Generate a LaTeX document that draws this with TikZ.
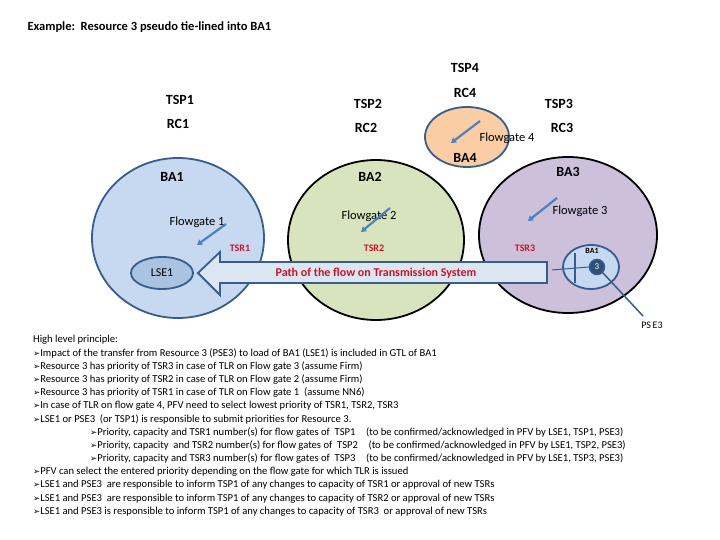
\documentclass[tikz,border=0pt]{standalone}
\usepackage{fontspec}
\setmainfont{Carlito}
\newfontfamily\djfont{DejaVu Sans}
\usetikzlibrary{arrows.meta}
\definecolor{bafill}{RGB}{198,217,241}
\definecolor{baline}{RGB}{56,93,138}
\definecolor{gfill}{RGB}{215,228,189}
\definecolor{pfill}{RGB}{204,192,218}
\definecolor{ofill}{RGB}{250,205,165}
\definecolor{afill}{RGB}{220,230,242}
\definecolor{lsefill}{RGB}{170,195,225}
\definecolor{arr}{RGB}{79,129,189}
\definecolor{tred}{RGB}{200,20,40}
\newcommand{\bl}{{\djfont\fontsize{8.5}{9}\selectfont ➢}}
\begin{document}
\begin{tikzpicture}[x=1pt,y=-1pt,
  lab/.style={font=\fontsize{14}{16}\selectfont\bfseries},
  fg/.style={font=\fontsize{12.5}{14}\selectfont},
  tsr/.style={font=\fontsize{10}{12}\selectfont\bfseries,text=tred},
  sa/.style={arr,line width=2.2pt,-{Triangle[length=5pt,width=6pt]}},
  body/.style={anchor=west,font=\fontsize{10.6}{12}\selectfont,inner sep=0pt}]
\useasboundingbox (0,0) rectangle (720,540);
\fill[white] (0,0) rectangle (720,540);
\node[anchor=west,font=\fontsize{12.5}{14}\selectfont\bfseries] (title) at (24,27) {Example:\ \ Resource 3 pseudo tie-lined into BA1};
% circles
\draw[baline,fill=bafill,line width=1.8pt] (178,238) ellipse [x radius=86,y radius=80];
\draw[black,fill=gfill,line width=1.8pt] (376,240) ellipse [x radius=88,y radius=80];
\draw[black,fill=pfill,line width=1.8pt] (568,235) ellipse [x radius=89,y radius=78];
\draw[baline,fill=ofill,line width=1.8pt] (467,137) ellipse [x radius=42,y radius=30];
% labels
\node[lab] (tsp1) at (180,100) {TSP1};
\node[lab] (rc1) at (178,124) {RC1};
\node[lab] (tsp2) at (368,104) {TSP2};
\node[lab] (rc2) at (366,128) {RC2};
\node[lab] (tsp4) at (465,68) {TSP4};
\node[lab] (rc4) at (465,93) {RC4};
\node[lab] (tsp3) at (559,104) {TSP3};
\node[lab] (rc3) at (562,128) {RC3};
\node[lab] (ba1) at (172,177) {BA1};
\node[lab] (ba2) at (370,177) {BA2};
\node[lab] (ba3) at (568,172) {BA3};
\node[lab] (ba4) at (465,158) {BA4};
\node[fg] (fg1) at (197,222) {Flowgate 1};
\node[fg] (fg2) at (369,216) {Flowgate 2};
\node[fg] (fg3) at (580,211) {Flowgate 3};
\node[fg] (fg4) at (507,138) {Flowgate 4};
\coordinate (a1s) at (226,224); \coordinate (a1e) at (197,245);
\coordinate (a2s) at (390,208); \coordinate (a2e) at (361,232);
\coordinate (a3s) at (557,198); \coordinate (a3e) at (528,221);
\coordinate (a4s) at (480,121); \coordinate (a4e) at (451,143);
\draw[sa] (a1s) -- (a1e);
\draw[sa] (a2s) -- (a2e);
\draw[sa] (a3s) -- (a3e);
\draw[sa] (a4s) -- (a4e);
\node[tsr] (tsr1) at (240,248) {TSR1};
\node[tsr] (tsr2) at (374,248) {TSR2};
\node[tsr] (tsr3) at (525,248) {TSR3};
% LSE1
\draw[baline,fill=lsefill,line width=1.8pt] (162,273) ellipse [x radius=31,y radius=16];
\node[font=\fontsize{12}{14}\selectfont] (lse1) at (162,273) {LSE1};
% big arrow
\draw[baline,fill=afill,line width=1.8pt] (547,262) -- (220,262) -- (220,252) -- (198,273) -- (220,295) -- (220,283) -- (547,283) -- cycle;
\node[font=\fontsize{12}{14}\selectfont\bfseries,text=tred] (path) at (376,273) {Path of the flow on Transmission System};
% inner BA1 in BA3
\draw[baline,fill=bafill,line width=1.8pt] (591,267) ellipse [x radius=28,y radius=22];
\node[font=\fontsize{8}{9}\selectfont\bfseries] (iba1) at (592,251) {BA1};
\node[circle,draw=baline,fill=baline!85!black,line width=1.5pt,minimum size=15pt,inner sep=0pt,text=white,font=\fontsize{9}{10}\selectfont] (r3) at (597,267) {3};
\coordinate (vt) at (575,253); \coordinate (vb) at (575,283);
\coordinate (hl) at (552,270);
\draw[baline,line width=1.5pt] (vt) -- (vb);
\draw[baline,line width=1pt] (hl) -- (r3.west);
\node[font=\fontsize{10}{12}\selectfont] (pse3) at (652,325) {PS\,E3};
\draw[baline,line width=1.5pt] (r3.south east) -- (643,316);
% body text
\foreach \i/\t in {0/{High level principle:},
 1/{\bl Impact of the transfer from Resource 3 (PSE3) to load of BA1 (LSE1) is included in GTL of BA1},
 2/{\bl Resource 3 has priority of TSR3 in case of TLR on Flow gate 3 (assume Firm)},
 3/{\bl Resource 3 has priority of TSR2 in case of TLR on Flow gate 2 (assume Firm)},
 4/{\bl Resource 3 has priority of TSR1 in case of TLR on Flow gate 1\ \ (assume NN6)},
 5/{\bl In case of TLR on flow gate 4, PFV need to select lowest priority of TSR1, TSR2, TSR3},
 6/{\bl LSE1 or PSE3\ \ (or TSP1) is responsible to submit priorities for Resource 3.},
 10/{\bl PFV can select the entered priority depending on the flow gate for which TLR is issued},
 11/{\bl LSE1 and PSE3\ \ are responsible to inform TSP1 of any changes to capacity of TSR1 or approval of new TSRs},
 12/{\bl LSE1 and PSE3\ \ are responsible to inform TSP1 of any changes to capacity of TSR2 or approval of new TSRs},
 13/{\bl LSE1 and PSE3 is responsible to inform TSP1 of any changes to capacity of TSR3\ \ or approval of new TSRs}}
 \node[body] (line\i) at (33,340+13.2*\i) {\t};
\foreach \i/\t in {
 7/{\bl Priority, capacity and TSR1 number(s) for flow gates of\ \ TSP1\quad (to be confirmed/acknowledged in PFV by LSE1, TSP1, PSE3)},
 8/{\bl Priority, capacity\ \ and TSR2 number(s) for flow gates of\ \ TSP2\quad (to be confirmed/acknowledged in PFV by LSE1, TSP2, PSE3)},
 9/{\bl Priority, capacity and TSR3 number(s) for flow gates of\ \ TSP3\quad (to be confirmed/acknowledged in PFV by LSE1, TSP3, PSE3)}}
 \node[body] (line\i) at (90,340+13.2*\i) {\t};
\end{tikzpicture}
\end{document}
